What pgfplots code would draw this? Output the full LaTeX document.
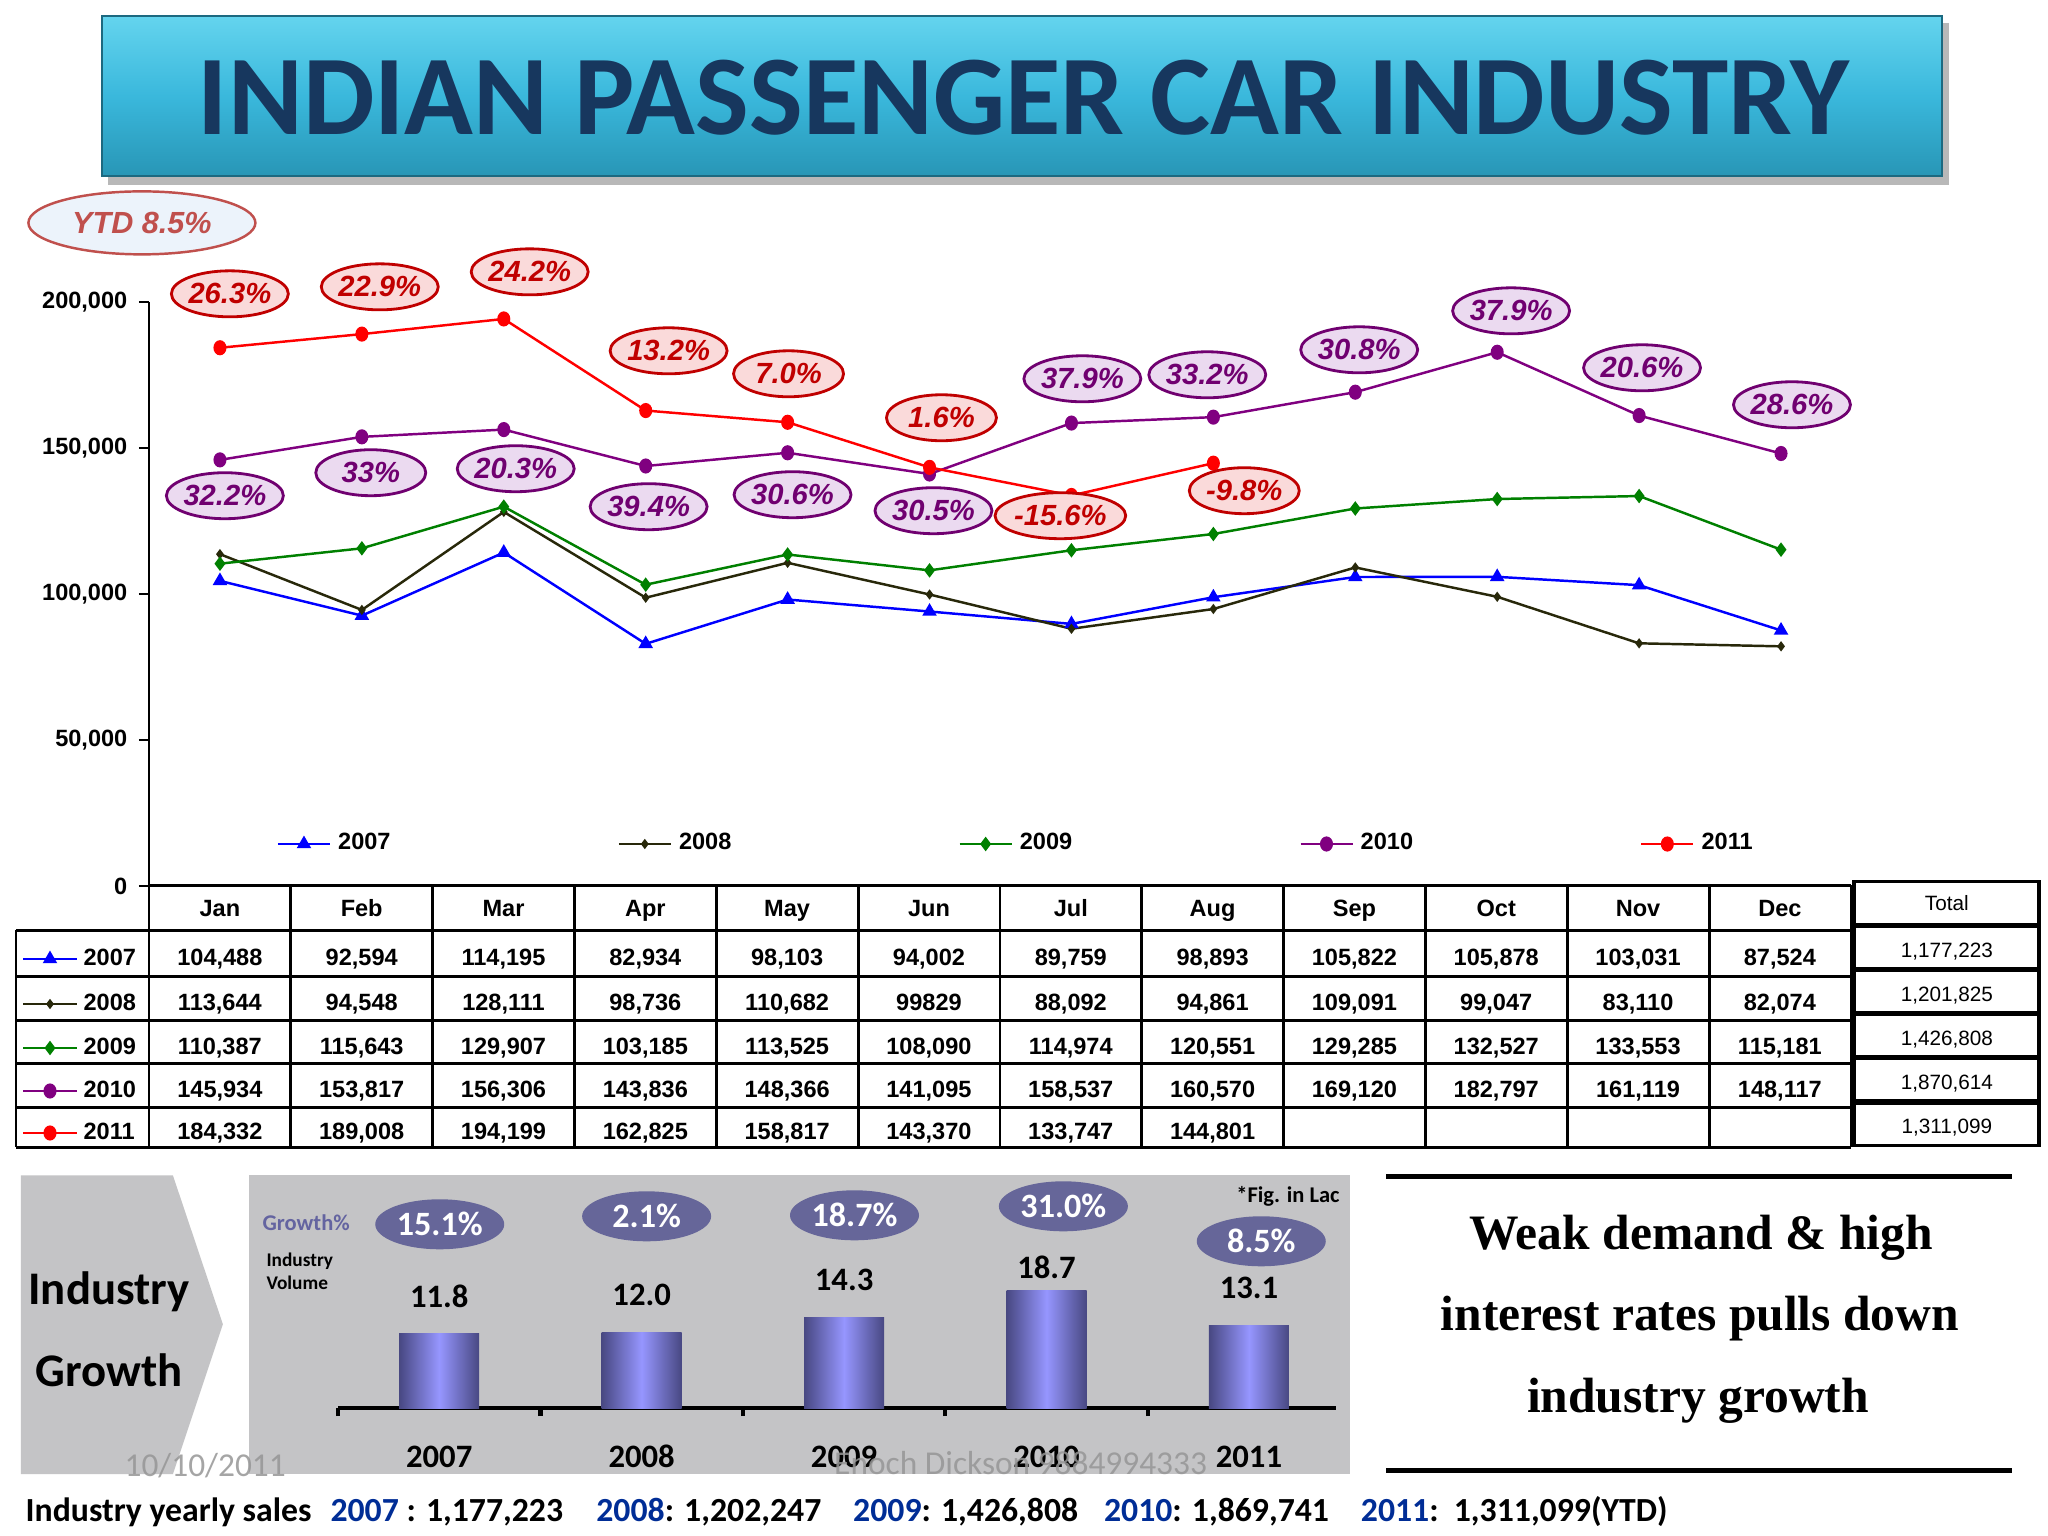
\documentclass[border=0pt]{standalone}
\usepackage{fontspec}
\setmainfont{Carlito}
\newfontfamily\arialf{Liberation Sans}
\newfontfamily\timesf{Liberation Serif}
\usepackage{pgfplots}
\usepackage{pgfplotstable}
\pgfplotsset{compat=1.18}
\usetikzlibrary{shapes.geometric}

\definecolor{cBlue}{RGB}{0,0,255}
\definecolor{cOlive}{RGB}{40,40,10}
\definecolor{cGreen}{RGB}{0,128,0}
\definecolor{cPurple}{RGB}{128,0,128}
\definecolor{cRed}{RGB}{255,0,0}
\definecolor{bRed}{RGB}{192,0,0}
\definecolor{bRedFill}{RGB}{250,218,218}
\definecolor{bPur}{RGB}{112,0,112}
\definecolor{bPurFill}{RGB}{235,218,240}
\definecolor{ytdC}{RGB}{192,80,77}
\definecolor{ytdFill}{RGB}{236,243,251}
\definecolor{titleC}{RGB}{23,55,94}
\definecolor{banTop}{RGB}{100,212,238}
\definecolor{banMid}{RGB}{58,184,220}
\definecolor{banBot}{RGB}{40,150,182}
\definecolor{panel}{RGB}{196,196,198}
\definecolor{barDark}{RGB}{72,72,130}
\definecolor{barLight}{RGB}{150,150,255}
\definecolor{gBub}{RGB}{102,102,153}
\definecolor{gTxt}{RGB}{100,100,160}
\definecolor{yrBlue}{RGB}{0,45,150}
\definecolor{wm}{RGB}{150,150,150}

\newcommand\tbl{\arialf\bfseries\fontsize{6.7}{8}\selectfont}
\newcommand\tot{\arialf\fontsize{5.9}{7}\selectfont}
\newcommand\bub{\arialf\bfseries\itshape\fontsize{8.3}{9}\selectfont}

\pgfplotstableread{
m y2007 y2008 y2009 y2010 y2011
0 104488 113644 110387 145934 184332
1 92594 94548 115643 153817 189008
2 114195 128111 129907 156306 194199
3 82934 98736 103185 143836 162825
4 98103 110682 113525 148366 158817
5 94002 99829 108090 141095 143370
6 89759 88092 114974 158537 133747
7 98893 94861 120551 160570 144801
8 105822 109091 129285 169120 nan
9 105878 99047 132527 182797 nan
10 103031 83110 133553 161119 nan
11 87524 82074 115181 148117 nan
}\salesdata

\newcommand\trow[2]{\foreach \v [count=\i from 0] in {#2} {\node[font=\tbl, anchor=base, inner sep=0] at ({220+141.9*\i},#1) {\v};}}

\begin{document}
\begin{tikzpicture}
\fill[white] (0,0) rectangle (20.48,-15.36);
\begin{scope}[x=0.01cm,y=-0.01cm]
 % banner
 \fill[black,opacity=0.28] (108,23) rectangle (1950,185);
 \shade[top color=banTop, bottom color=banBot, middle color=banMid] (102,16) rectangle (1943,176);
 \draw[banBot!70!black, line width=0.4pt] (102,16) rectangle (1943,176);
 \node[anchor=base, font=\bfseries\fontsize{32.3}{36}\selectfont, text=titleC, inner sep=0] at (1024,135) {INDIAN PASSENGER CAR INDUSTRY};
 % YTD
 \node[ellipse, draw=ytdC, fill=ytdFill, line width=0.7pt, minimum width=2.27cm, minimum height=0.63cm, inner sep=0, text=ytdC, font=\arialf\bfseries\itshape\fontsize{8.7}{10}\selectfont] at (142,223) {YTD 8.5\%};
 % table grid
 \begin{scope}[line width=0.8pt]
  \draw (149,886) -- (1852,886);
  \foreach \yy in {931,977,1021,1064,1108,1148} {\draw (16,\yy) -- (1852,\yy);}
  \draw (16,931) -- (16,1148);
  \foreach \k in {0,...,12} {\draw ({149+141.92*\k},886) -- ({149+141.92*\k},1148);}
 \end{scope}
 % total column
 \foreach \ya/\yb in {882/925,927/969,971/1013,1015/1057,1059/1101,1104/1146} {\draw[line width=1pt] (1855,\ya) rectangle (2040,\yb);}
 % headers
 \foreach \mm [count=\i from 0] in {Jan,Feb,Mar,Apr,May,Jun,Jul,Aug,Sep,Oct,Nov,Dec} {\node[font=\tbl, anchor=base, inner sep=0] at ({220+141.9*\i},917) {\mm};}
 \trow{966}{{104,488},{92,594},{114,195},{82,934},{98,103},{94,002},{89,759},{98,893},{105,822},{105,878},{103,031},{87,524}}
 \trow{1011}{{113,644},{94,548},{128,111},{98,736},{110,682},99829,{88,092},{94,861},{109,091},{99,047},{83,110},{82,074}}
 \trow{1055}{{110,387},{115,643},{129,907},{103,185},{113,525},{108,090},{114,974},{120,551},{129,285},{132,527},{133,553},{115,181}}
 \trow{1098}{{145,934},{153,817},{156,306},{143,836},{148,366},{141,095},{158,537},{160,570},{169,120},{182,797},{161,119},{148,117}}
 \trow{1140}{{184,332},{189,008},{194,199},{162,825},{158,817},{143,370},{133,747},{144,801}}
 \foreach \yy/\yr in {966/2007,1011/2008,1055/2009,1098/2010,1140/2011} {\node[font=\tbl, anchor=base west, inner sep=0] at (83,\yy) {\yr};}
 \node[font=\tot, anchor=base, inner sep=0] at (1948,911) {Total};
 \foreach \yy/\tv in {958/{1,177,223},1002/{1,201,825},1046/{1,426,808},1090/{1,870,614},1134/{1,311,099}} {\node[font=\tot, anchor=base, inner sep=0] at (1948,\yy) {\tv};}
 % bottom panels
 \fill[panel] (21,1176) -- (173,1176) -- (223,1325) -- (173,1475) -- (21,1475) -- cycle;
 \fill[panel] (249,1176) rectangle (1351,1475);
\end{scope}

% main line chart
\begin{axis}[at={(1.49cm,-8.86cm)}, anchor=south west, width=17.03cm, height=5.84cm, scale only axis,
  xmin=-0.5, xmax=11.5, ymin=0, ymax=200000, axis lines*=left, xtick=\empty,
  ytick={0,50000,100000,150000,200000}, yticklabels={0,{50,000},{100,000},{150,000},{200,000}},
  scaled y ticks=false, tick align=outside, major tick length=0.1cm, tick style={black,line width=0.6pt},
  yticklabel style={font=\tbl, inner sep=0pt, xshift=-0.11cm},
  x axis line style={line width=0.8pt,-}, y axis line style={line width=0.6pt,-},
  clip=false,
  legend columns=5,
  legend style={at={(0.0746,0.0719)}, anchor=west, draw=none, fill=none, inner sep=0pt, font=\tbl,
    /tikz/every even column/.append style={column sep=2.20cm}, nodes={inner xsep=0.07cm, inner ysep=0pt}},
  legend image code/.code={\draw[mark repeat=2,mark phase=2,#1] plot coordinates {(0cm,0cm) (0.26cm,0cm) (0.52cm,0cm)};}
]
\addplot[cBlue, line width=0.7pt, mark=triangle*, mark size=1.7pt, mark options={fill=cBlue}] table[x=m,y=y2007]{\salesdata};
\addlegendentry{2007}
\addplot[cOlive, line width=0.7pt, mark=diamond*, mark size=0.9pt, mark options={fill=cOlive}] table[x=m,y=y2008]{\salesdata};
\addlegendentry{2008}
\addplot[cGreen, line width=0.7pt, mark=diamond*, mark size=1.5pt, mark options={fill=cGreen}] table[x=m,y=y2009]{\salesdata};
\addlegendentry{2009}
\addplot[cPurple, line width=0.7pt, mark=*, mark size=1.5pt, mark options={fill=cPurple, yscale=1.2}] table[x=m,y=y2010]{\salesdata};
\addlegendentry{2010}
\addplot[cRed, line width=0.7pt, mark=*, mark size=1.5pt, mark options={fill=cRed, yscale=1.2}] table[x=m,y=y2011]{\salesdata};
\addlegendentry{2011}
\end{axis}

% bar chart
\begin{axis}[at={(3.38cm,-14.08cm)}, anchor=south west, width=9.98cm, height=1.89cm, scale only axis,
  xmin=-0.5, xmax=4.43, ymin=0, ymax=30, axis x line*=bottom, axis y line=none,
  xtick={0,1,2,3,4}, xticklabels={2007,2008,2009,2010,2011}, major tick length=0pt,
  xticklabel style={font=\bfseries\fontsize{9.3}{10}\selectfont, anchor=base, yshift=-0.59cm},
  extra x ticks={-0.5,0.5,1.5,2.5,3.5}, extra x tick labels={},
  extra x tick style={major tick length=0.08cm, tick align=outside, tick style={black,line width=1.2pt}},
  x axis line style={line width=1.4pt,-}, ytick=\empty, clip=false]
\addplot[ybar, bar width=0.8cm, bar shift=0pt, draw=none, left color=barDark, right color=barDark, middle color=barLight] coordinates {(0,11.8)};
\addplot[ybar, bar width=0.8cm, bar shift=0pt, draw=none, left color=barDark, right color=barDark, middle color=barLight] coordinates {(1,12.0)};
\addplot[ybar, bar width=0.8cm, bar shift=0pt, draw=none, left color=barDark, right color=barDark, middle color=barLight] coordinates {(2,14.3)};
\addplot[ybar, bar width=0.8cm, bar shift=0pt, draw=none, left color=barDark, right color=barDark, middle color=barLight] coordinates {(3,18.7)};
\addplot[ybar, bar width=0.8cm, bar shift=0pt, draw=none, left color=barDark, right color=barDark, middle color=barLight] coordinates {(4,13.1)};
\node[font=\bfseries\fontsize{9.3}{10}\selectfont] at (axis cs:0,17.8) {11.8};
\node[font=\bfseries\fontsize{9.3}{10}\selectfont] at (axis cs:1,18.0) {12.0};
\node[font=\bfseries\fontsize{9.3}{10}\selectfont] at (axis cs:2,20.3) {14.3};
\node[font=\bfseries\fontsize{9.3}{10}\selectfont] at (axis cs:3,22.35) {18.7};
\node[font=\bfseries\fontsize{9.3}{10}\selectfont] at (axis cs:4,19.1) {13.1};
\end{axis}

% legend samples in the table's first column
\begin{axis}[at={(0cm,-15.36cm)}, anchor=south west, width=20.48cm, height=15.36cm, scale only axis,
  xmin=0, xmax=2048, ymin=-1536, ymax=0, hide axis, clip=false]
\addplot[cBlue, line width=0.7pt, mark=triangle*, mark size=1.7pt, mark options={fill=cBlue}, mark repeat=2, mark phase=2] coordinates {(23,-959)(50,-959)(77,-959)};
\addplot[cOlive, line width=0.7pt, mark=diamond*, mark size=0.9pt, mark options={fill=cOlive}, mark repeat=2, mark phase=2] coordinates {(23,-1004)(50,-1004)(77,-1004)};
\addplot[cGreen, line width=0.7pt, mark=diamond*, mark size=1.5pt, mark options={fill=cGreen}, mark repeat=2, mark phase=2] coordinates {(23,-1048)(50,-1048)(77,-1048)};
\addplot[cPurple, line width=0.7pt, mark=*, mark size=1.5pt, mark options={fill=cPurple, yscale=1.2}, mark repeat=2, mark phase=2] coordinates {(23,-1091)(50,-1091)(77,-1091)};
\addplot[cRed, line width=0.7pt, mark=*, mark size=1.5pt, mark options={fill=cRed, yscale=1.2}, mark repeat=2, mark phase=2] coordinates {(23,-1133)(50,-1133)(77,-1133)};
\end{axis}

\begin{scope}[x=0.01cm,y=-0.01cm]
 \tikzset{rb/.style={ellipse, draw=bRed, fill=bRedFill, line width=0.8pt, minimum width=1.10cm, minimum height=0.46cm, inner sep=0, text=bRed, font=\bub},
          pb/.style={ellipse, draw=bPur, fill=bPurFill, line width=0.8pt, minimum width=1.10cm, minimum height=0.46cm, inner sep=0, text=bPur, font=\bub},
          gb/.style={ellipse, fill=gBub, minimum width=1.29cm, minimum height=0.50cm, inner sep=0, text=white, font=\bfseries\fontsize{9.7}{10}\selectfont}}
 \foreach \px/\py/\tt in {230/294/26.3,380/287/22.9,530/272/24.2,669/351/13.2,789/374/7.0,942/418/1.6,1061/516/-15.6,1245/491/-9.8} {\node[rb] at (\px,\py) {\tt\%};}
 \foreach \px/\py/\tt in {225/496/32.2,371/473/33,516/469/20.3,649/507/39.4,793/495/30.6,934/511/30.5,1083/379/37.9,1208/375/33.2,1360/350/30.8,1512/311/37.9,1643/368/20.6,1793/405/28.6} {\node[pb] at (\px,\py) {\tt\%};}
 % bottom panel texts
 \node[font=\bfseries\fontsize{13.3}{14}\selectfont, anchor=base, inner sep=0] at (109,1305) {Industry};
 \node[font=\bfseries\fontsize{13.3}{14}\selectfont, anchor=base, inner sep=0] at (109,1387) {Growth};
 \node[font=\bfseries\fontsize{6.4}{7}\selectfont, text=gTxt, anchor=west, inner sep=0] at (262,1223) {Growth\%};
 \node[font=\bfseries\fontsize{5.5}{6}\selectfont, anchor=base west, inner sep=0] at (266,1267) {Industry};
 \node[font=\bfseries\fontsize{5.5}{6}\selectfont, anchor=base west, inner sep=0] at (266,1290) {Volume};
 \node[font=\bfseries\fontsize{6.4}{7}\selectfont, anchor=east, inner sep=0] at (1341,1197) {*Fig. in Lac};
 \foreach \px/\py/\tt in {440/1225/15.1,647/1217/2.1,855/1216/18.7,1064/1207/31.0,1262/1242/8.5} {\node[gb] at (\px,\py) {\tt\%};}
 % right text block
 \draw[line width=1.4pt] (1387,1177) -- (2013,1177);
 \draw[line width=1.4pt] (1387,1471) -- (2013,1471);
 \node[font=\timesf\bfseries\fontsize{14.1}{15}\selectfont, anchor=base, inner sep=0] at (1702,1250) {Weak demand \& high};
 \node[font=\timesf\bfseries\fontsize{14.1}{15}\selectfont, anchor=base, inner sep=0] at (1701,1331) {interest rates pulls down};
 \node[font=\timesf\bfseries\fontsize{14.1}{15}\selectfont, anchor=base, inner sep=0] at (1699,1413) {industry growth};
 % bottom line
 \begin{scope}[every node/.style={font=\bfseries\fontsize{9.6}{10}\selectfont, anchor=base west, inner sep=0}]
  \node at (25,1522) {Industry yearly sales};
  \node at (330,1522) {{\color{yrBlue}2007} : 1,177,223};
  \node at (596,1522) {{\color{yrBlue}2008}: 1,202,247};
  \node at (853,1522) {{\color{yrBlue}2009}: 1,426,808};
  \node at (1104,1522) {{\color{yrBlue}2010}: 1,869,741};
  \node at (1361,1522) {{\color{yrBlue}2011}:\ \ 1,311,099(YTD)};
 \end{scope}
 % watermark
 \node[font=\fontsize{9.5}{10}\selectfont, text=wm, anchor=base west, inner sep=0, opacity=0.85] at (124,1477) {10/10/2011};
 \node[font=\fontsize{9.5}{10}\selectfont, text=wm, anchor=base west, inner sep=0, opacity=0.85] at (834,1475) {Enoch Dickson 9884994333};
\end{scope}
\pgfresetboundingbox
\useasboundingbox (0,0) rectangle (20.48,-15.36);
\end{tikzpicture}
\end{document}
